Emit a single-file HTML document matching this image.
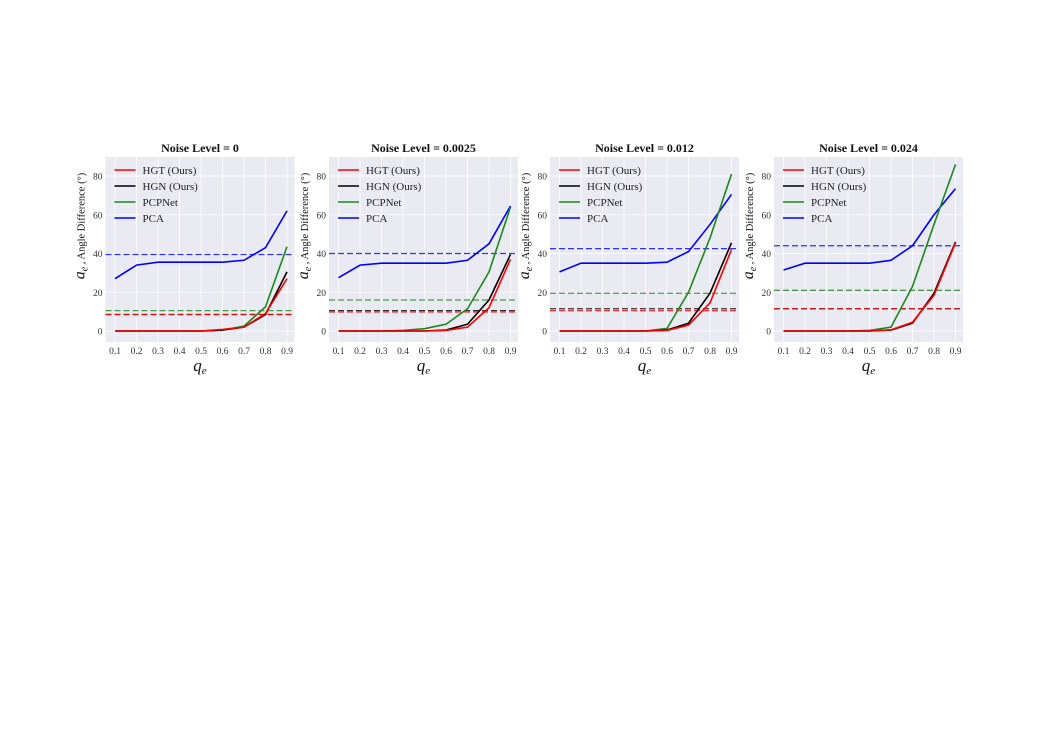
<!DOCTYPE html>
<html><head><meta charset="utf-8"><style>
html,body{margin:0;padding:0;background:#fff;width:1053px;height:744px;overflow:hidden}
svg{display:block;font-family:"Liberation Serif",serif}
</style></head><body>
<svg id="s" width="1053" height="744" xmlns="http://www.w3.org/2000/svg"></svg>
<script>
const S=document.getElementById('s');let h='';
const panels=[
{L:105.5,t:'Noise Level = 0',
 pca:[27,34,35.5,35.5,35.5,35.5,36.5,43,62],pcp:[0,0,0,0,0,0.5,2.5,12.5,43.5],hgn:[0,0,0,0,0,0.5,2,8.5,30.5],hgt:[0,0,0,0,0,0.8,2,9,27],
 d:[39.5,10.5,8.5,8.5]},
{L:329,t:'Noise Level = 0.0025',
 pca:[27.5,34,35,35,35,35,36.5,45,64.5],pcp:[0,0,0,0.3,1.2,3.5,11.5,30.5,64],hgn:[0,0,0,0,0,0.5,3.5,16,39.5],hgt:[0,0,0,0,0,0.3,2,12,37],
 d:[40,16,10.5,9.8]},
{L:550,t:'Noise Level = 0.012',
 pca:[30.5,35,35,35,35,35.5,41,55,70.5],pcp:[0,0,0,0,0,1.3,20,48,81],hgn:[0,0,0,0,0,0.5,4,19.5,45.5],hgt:[0,0,0,0,0,0.3,3,14.5,42],
 d:[42.5,19.5,11.5,10.5]},
{L:774,t:'Noise Level = 0.024',
 pca:[31.5,35,35,35,35,36.5,44,60,73.5],pcp:[0,0,0,0,0.3,2,23,55,86],hgn:[0,0,0,0,0,0.5,4,19.5,46],hgt:[0,0,0,0,0,0.6,4.5,18.5,45.5],
 d:[44,21,11.5,11.5]}];
const T=157,B=342,W=189,Y=v=>331-v*1.9375;
panels.forEach(p=>{
 const X=i=>p.L+9.5+i*21.5;
 h+=`<rect x="${p.L}" y="${T}" width="${W}" height="${B-T}" fill="#EAEAF2"/>`;
 for(let i=0;i<9;i++){h+=`<line x1="${X(i)}" x2="${X(i)}" y1="${T}" y2="${B}" stroke="#fff" stroke-width="0.8"/>`;
  h+=`<text x="${X(i)}" y="354" font-size="9.5" fill="#333" text-anchor="middle">0.${i+1}</text>`;}
 for(let v=0;v<=80;v+=20){h+=`<line x1="${p.L}" x2="${p.L+W}" y1="${Y(v)}" y2="${Y(v)}" stroke="#fff" stroke-width="0.8"/>`;
  h+=`<text x="${p.L-3}" y="${Y(v)+3.5}" font-size="9.5" fill="#333" text-anchor="end">${v}</text>`;}
 const cols=['#0000ff','#1a8a1a','#000','#ff0000'];
 p.d.forEach((v,k)=>{h+=`<line x1="${p.L}" x2="${p.L+W}" y1="${Y(v)}" y2="${Y(v)}" stroke="${cols[k]}" stroke-opacity="0.8" stroke-width="1.3" stroke-dasharray="6,3"/>`;});
 [[p.pca,'#0000ff'],[p.pcp,'#1a8a1a'],[p.hgn,'#000'],[p.hgt,'#ff0000']].forEach(([a,c])=>{
  h+=`<polyline fill="none" stroke="${c}" stroke-width="1.6" points="${a.map((v,i)=>X(i)+','+Y(v)).join(' ')}"/>`;});
 [['HGT (Ours)','#ff0000'],['HGN (Ours)','#000'],['PCPNet','#1a8a1a'],['PCA','#0000ff']].forEach(([n,c],k)=>{
  const y=170+k*16;h+=`<line x1="${p.L+9}" x2="${p.L+30}" y1="${y}" y2="${y}" stroke="${c}" stroke-width="1.6"/>`;
  h+=`<text x="${p.L+37}" y="${y+4}" font-size="11" fill="#222">${n}</text>`;});
 h+=`<text x="${p.L+W/2}" y="152" font-size="12" font-weight="bold" text-anchor="middle" fill="#111">${p.t}</text>`;
 h+=`<text x="${p.L+W/2}" y="371" font-size="17" font-style="italic" text-anchor="middle" fill="#111">q<tspan font-size="11" dy="3">e</tspan></text>`;
 const cx=p.L-21,cy=226;
 h+=`<text transform="translate(${cx},${cy}) rotate(-90)" font-size="10.5" text-anchor="middle" fill="#111"><tspan font-size="16" font-style="italic">a</tspan><tspan font-size="10" font-style="italic" dy="3">e</tspan><tspan dy="-3"> , Angle Difference (°)</tspan></text>`;
});
S.innerHTML=h;
</script>
</body></html>
